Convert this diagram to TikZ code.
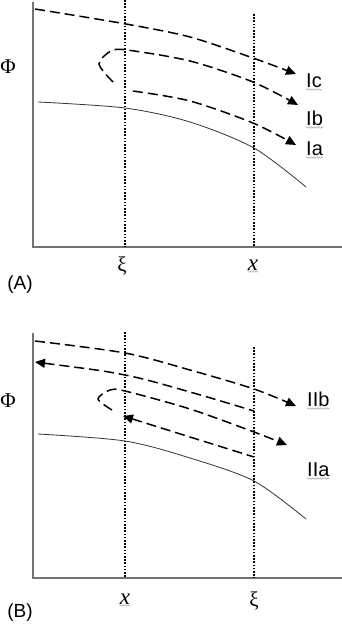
\documentclass[tikz,border=0pt]{standalone}
\usepackage{fontspec}
\setmainfont{Liberation Sans}
\newfontfamily\serifF{Liberation Serif}
\usetikzlibrary{arrows.meta,decorations.pathmorphing}
\begin{document}
\begin{tikzpicture}[x=1pt,y=-1pt,
  axisline/.style={draw=black!55,line width=1.2pt},
  vdots/.style={draw=black,line width=1.5pt,dash pattern=on 1.5pt off 1.7pt},
  dashline/.style={draw=black,line width=1.5pt,dash pattern=on 10pt off 5pt},
  tipR/.style={-{Triangle[length=10pt,width=9pt]}},
  tipL/.style={{Triangle[length=10pt,width=9pt]}-},
  level/.style={draw=black!80,line width=0.8pt},
  lab/.style={font=\fontsize{20}{22}\selectfont,anchor=base west,inner sep=0pt},
  panel/.style={font=\fontsize{19}{21}\selectfont,inner sep=0pt},
  sym/.style={font=\serifF\fontsize{21}{23}\selectfont,inner sep=0pt},
  ital/.style={font=\serifF\itshape\fontsize{23}{25}\selectfont,inner sep=0pt},
  wavy/.style={draw=black!35,line width=0.5pt,decorate,decoration={snake,amplitude=0.7pt,segment length=2.5pt}}]
\useasboundingbox (0,0) rectangle (342,624);
% ---------------- Panel A ----------------
\coordinate (Ao) at (33,247);
\coordinate (Atop) at (33,2);
\coordinate (Aright) at (342,247);
\draw[axisline] (Atop) -- (Ao) -- (Aright);
\coordinate (Av1t) at (125,0);  \coordinate (Av1b) at (125,247);
\coordinate (Av2t) at (254,14); \coordinate (Av2b) at (254,247);
\draw[vdots] (Av1t) -- (Av1b);
\draw[vdots] (Av2t) -- (Av2b);
\draw[level] plot[smooth] coordinates {(38,102) (125,108) (190,122) (254,148) (306,187)};
\draw[dashline,tipR] plot[smooth] coordinates {(35,9) (126,24) (190,37) (253,58) (296,74)};
\draw[dashline,tipR] plot[smooth] coordinates {(113,82) (99,64) (111,51) (127,50) (190,61) (253,82) (298,105)};
\draw[dashline,tipR] plot[smooth] coordinates {(133,91) (190,101) (253,123) (296,145)};
\node[lab] (Ic) at (306,87) {Ic};
\node[lab] (Ib) at (306,125) {Ib};
\node[lab] (Ia) at (306,155) {Ia};
\draw[wavy] ([yshift=-2.5pt]Ic.base west) -- ([yshift=-2.5pt]Ic.base east);
\draw[wavy] ([yshift=-2.5pt]Ib.base west) -- ([yshift=-2.5pt]Ib.base east);
\draw[wavy] ([yshift=-2.5pt]Ia.base west) -- ([yshift=-2.5pt]Ia.base east);
\node[sym] (APhi) at (8,67) {Φ};
\node[sym] (Axi) at (122,266) {ξ};
\node[ital] (Ax) at (253,265) {x};
\draw[wavy] ([yshift=-1pt]Ax.south west) -- ([yshift=-1pt]Ax.south east);
\node[panel] (Alab) at (20,285) {(A)};
% ---------------- Panel B ----------------
\coordinate (Bo) at (33,578);
\coordinate (Btop) at (33,333);
\coordinate (Bright) at (342,578);
\draw[axisline] (Btop) -- (Bo) -- (Bright);
\coordinate (Bv1t) at (125,332); \coordinate (Bv1b) at (125,578);
\coordinate (Bv2t) at (254,347); \coordinate (Bv2b) at (254,578);
\draw[vdots] (Bv1t) -- (Bv1b);
\draw[vdots] (Bv2t) -- (Bv2b);
\draw[level] plot[smooth] coordinates {(38,434) (125,441) (190,458) (254,481) (306,519)};
\draw[dashline,tipR] plot[smooth] coordinates {(35,341) (125,353) (190,370) (254,389) (296,406)};
\draw[dashline,tipL] plot[smooth] coordinates {(35,362) (125,375) (190,392) (254,411)};
\draw[dashline,tipR] plot[smooth] coordinates {(112,410) (98,399) (110,390) (125,391) (190,409) (254,432) (287,445)};
\draw[dashline,tipL] plot[smooth] coordinates {(123,416) (190,437) (254,457)};
\node[lab] (IIb) at (307,406) {IIb};
\node[lab] (IIa) at (307,476) {IIa};
\draw[wavy] ([yshift=-2.5pt]IIb.base west) -- ([yshift=-2.5pt]IIb.base east);
\draw[wavy] ([yshift=-2.5pt]IIa.base west) -- ([yshift=-2.5pt]IIa.base east);
\node[sym] (BPhi) at (8,401) {Φ};
\node[ital] (Bx) at (125,599) {x};
\draw[wavy] ([yshift=-1pt]Bx.south west) -- ([yshift=-1pt]Bx.south east);
\node[sym] (Bxi) at (254,601) {ξ};
\node[panel] (Blab) at (20,613) {(B)};
\end{tikzpicture}
\end{document}
